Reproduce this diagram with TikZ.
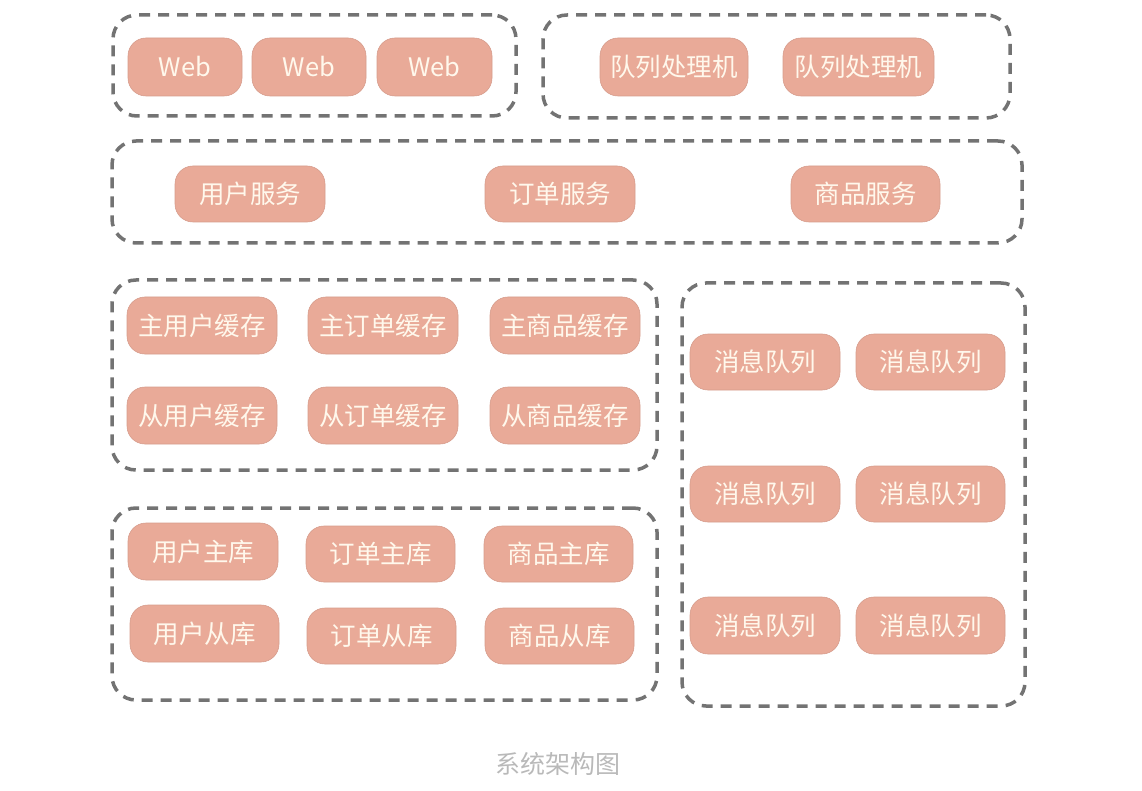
\documentclass[tikz,border=0pt]{standalone}
\usepackage{fontspec}
\newfontfamily\cjk{Noto Sans CJK SC}
\definecolor{boxfill}{RGB}{233,170,152}
\definecolor{boxtext}{RGB}{255,248,236}
\definecolor{dashgray}{RGB}{115,115,115}
\definecolor{capgray}{RGB}{185,185,185}
\tikzset{
  svc/.style={fill=boxfill, draw=boxfill!92!black, line width=0.6pt, rounded corners=18pt, inner sep=0pt,
    text=boxtext, font=\cjk\fontsize{25.5}{30}\selectfont},
  grp/.style={draw=dashgray, line width=3.5pt, dash pattern=on 11pt off 8pt, rounded corners=24pt, inner sep=0pt}
}
\newcommand\bx[6]{\node[svc, minimum width={(#4-#2)*1pt}, minimum height={(#5-#3)*1pt}] (#1) at ({(#2+#4)/2},{(#3+#5)/2}) {#6};}
\newcommand\gp[5]{\node[grp, minimum width={(#4-#2)*1pt}, minimum height={(#5-#3)*1pt}] (#1) at ({(#2+#4)/2},{(#3+#5)/2}) {};}
\begin{document}
\begin{tikzpicture}[x=1pt,y=-1pt]
\useasboundingbox (0,0) rectangle (1142,791);
% groups
\gp{g1}{113}{15}{516}{116}
\gp{g2}{543}{15}{1010}{118}
\gp{g3}{112}{141}{1022}{243}
\gp{g4}{112}{280}{657}{470}
\gp{g5}{112}{508}{657}{700}
\gp{g6}{682}{283}{1025}{706}
% web
\bx{w1}{128}{38}{242}{96}{Web}
\bx{w2}{252}{38}{366}{96}{Web}
\bx{w3}{377}{38}{492}{96}{Web}
% queue processors
\bx{q1}{600}{38}{748}{96}{队列处理机}
\bx{q2}{783}{38}{934}{96}{队列处理机}
% services
\bx{s1}{175}{166}{325}{222}{用户服务}
\bx{s2}{485}{166}{635}{222}{订单服务}
\bx{s3}{791}{166}{940}{222}{商品服务}
% caches
\bx{c1}{127}{297}{277}{354}{主用户缓存}
\bx{c2}{308}{297}{458}{354}{主订单缓存}
\bx{c3}{490}{297}{640}{354}{主商品缓存}
\bx{c4}{127}{387}{277}{444}{从用户缓存}
\bx{c5}{308}{387}{458}{444}{从订单缓存}
\bx{c6}{490}{387}{640}{444}{从商品缓存}
% databases
\bx{d1}{128}{523}{278}{580}{用户主库}
\bx{d2}{306}{526}{455}{582}{订单主库}
\bx{d3}{484}{526}{633}{582}{商品主库}
\bx{d4}{130}{605}{279}{662}{用户从库}
\bx{d5}{307}{608}{456}{664}{订单从库}
\bx{d6}{485}{608}{634}{664}{商品从库}
% message queues
\bx{m1}{690}{334}{840}{390}{消息队列}
\bx{m2}{856}{334}{1005}{390}{消息队列}
\bx{m3}{690}{466}{840}{522}{消息队列}
\bx{m4}{856}{466}{1005}{522}{消息队列}
\bx{m5}{690}{597}{840}{654}{消息队列}
\bx{m6}{856}{597}{1005}{654}{消息队列}
% caption
\node[text=capgray, font=\cjk\fontsize{25}{30}\selectfont, inner sep=0pt] (cap) at (558,764) {系统架构图};
\end{tikzpicture}
\end{document}
